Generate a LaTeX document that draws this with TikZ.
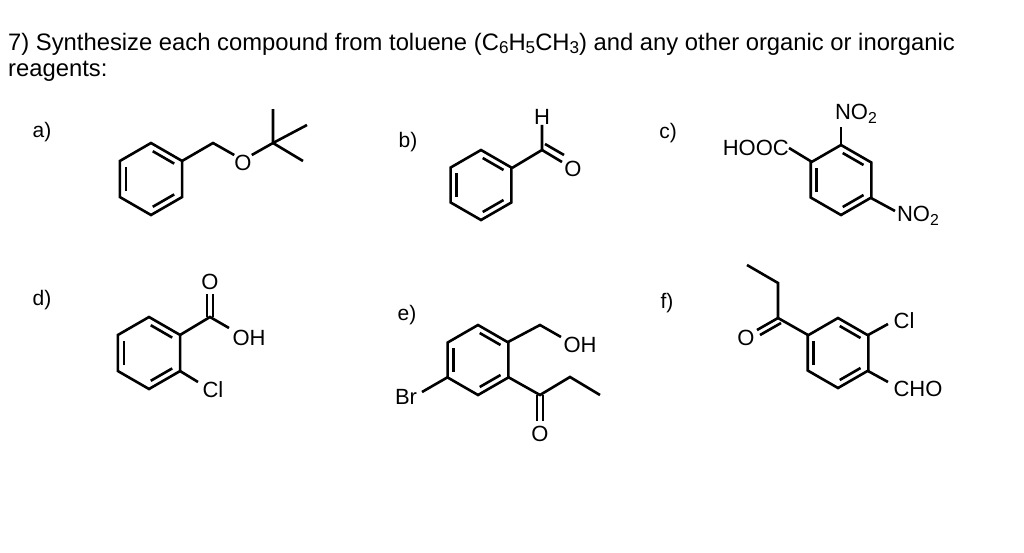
\documentclass[tikz,border=0pt]{standalone}
\usepackage{fontspec}
\setmainfont{Liberation Sans}
\usetikzlibrary{calc}
\newcommand\sbs[1]{\raisebox{-0.3ex}{\fontsize{0.72em}{1em}\selectfont #1}}
\newcommand\benz[3]{%
  \draw[bond] (#1,#2) ++(90:#3) -- ++(-30:#3) -- ++(-90:#3) -- ++(-150:#3) -- ++(150:#3) -- ++(90:#3) -- cycle;
  \foreach \a/\b in {90/30,-30/-90,150/210}{
    \draw[bond,shorten <=2pt,shorten >=2pt] ($(#1,#2)+(\a:0.8*#3)$) -- ($(#1,#2)+(\b:0.8*#3)$);}
}
\begin{document}
\begin{tikzpicture}[x=1pt,y=-1pt,
  bond/.style={line width=2.6pt,line join=miter},
  atom/.style={font=\fontsize{22}{24}\selectfont,inner sep=0pt},
  lab/.style={font=\fontsize{21}{24}\selectfont,inner sep=0pt}]
\useasboundingbox[fill=white] (0,0) rectangle (1024,552);
\node[anchor=base west,inner sep=0pt,font=\fontsize{23.8}{26}\selectfont] (t1) at (8,50) {7) Synthesize each compound from toluene (C\sbs{6}H\sbs{5}CH\sbs{3}) and any other organic or inorganic};
\node[anchor=base west,inner sep=0pt,font=\fontsize{23.8}{26}\selectfont] (t2) at (8,76) {reagents:};
% a
\node[lab] (la) at (42,132) {a)};
\benz{151}{179}{36}
\node[atom] (oa) at (243,163) {O};
\draw[bond] (182,161) -- (213,143) -- (oa.north west);
\draw[bond] (oa.north east) -- (273,143) -- (273,109);
\draw[bond] (273,143) -- (307,125);
\draw[bond] (273,143) -- (303,161);
% b
\node[lab] (lb) at (408,142) {b)};
\benz{481}{185}{35}
\node[atom] (hb) at (542,117) {H};
\node[atom] (ob) at (573,169) {O};
\draw[bond] (512,168) -- (542,150) -- (hb.south);
\draw[bond] (542,150) -- (562,162);
\draw[bond] (545,144) -- (564,155);
% c
\node[lab] (lc) at (668,133) {c)};
\benz{841}{180}{35}
\node[atom,anchor=east] (hooc) at (789,148) {HOOC};
\node[atom] (n1) at (856,114) {NO\sbs{2}};
\node[atom] (n2) at (918,216) {NO\sbs{2}};
\draw[bond] (812,162) -- (hooc.east);
\draw[bond] (841,145) -- (841,127);
\draw[bond] (871,198) -- (895,211);
% d
\node[lab] (ld) at (42,300) {d)};
\benz{149}{353}{36}
\node[atom] (od) at (210,282) {O};
\node[atom] (ohd) at (249,338) {OH};
\node[atom] (cld) at (213,390) {Cl};
\draw[bond] (180,335) -- (210,317) -- (229,328);
\draw[bond] (207,317) -- (207,294);
\draw[bond] (213,317) -- (213,294);
\draw[bond] (180,371) -- (198,382);
% e
\node[lab] (le) at (407,315) {e)};
\benz{478}{360}{35}
\node[atom] (ohe) at (580,345) {OH};
\node[atom] (bre) at (406,397) {Br};
\node[atom] (oe) at (540,434) {O};
\draw[bond] (508,342) -- (540,325) -- (561,337);
\draw[bond] (448,377) -- (422,392);
\draw[bond] (508,377) -- (540,395) -- (570,377) -- (600,395);
\draw[bond] (537,395) -- (537,421);
\draw[bond] (543,395) -- (543,421);
% f
\node[lab] (lf) at (667,303) {f)};
\benz{838}{353}{35}
\node[atom] (clf) at (904,321) {Cl};
\node[atom] (chof) at (918,389) {CHO};
\node[atom] (of) at (746,338) {O};
\draw[bond] (868,335) -- (888,324);
\draw[bond] (868,371) -- (888,382);
\draw[bond] (808,335) -- (778,318) -- (778,283) -- (747,265);
\draw[bond] (778,318) -- (757,330);
\draw[bond] (781,323) -- (760,335);
\end{tikzpicture}
\end{document}
